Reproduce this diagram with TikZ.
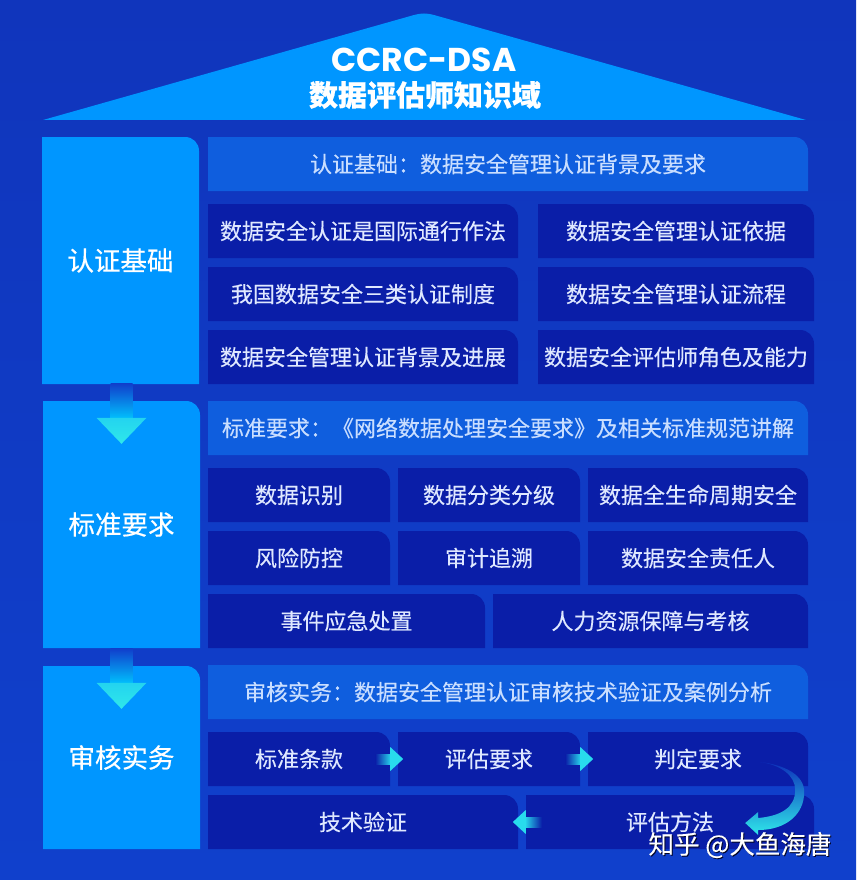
\documentclass[tikz,border=0pt]{standalone}
\usepackage{fontspec}
\setmainfont[FakeBold=0.25]{Noto Sans CJK SC}
\newfontfamily\latinhead{Poppins}
\newfontfamily\cjkhead[FakeBold=0.5]{Noto Sans CJK SC}
\usetikzlibrary{calc}
\definecolor{pagetop}{HTML}{1035BC}
\definecolor{pagebot}{HTML}{1040CC}
\definecolor{basefill}{HTML}{0096FF}
\definecolor{headfill}{HTML}{0F5EDE}
\definecolor{itemfill}{HTML}{0A1EA8}
\definecolor{flowend}{HTML}{2FE8EA}
\definecolor{flowmid}{HTML}{3FA8EA}
\definecolor{headtext}{HTML}{C9DEFF}
\definecolor{itemtext}{HTML}{DFE8FF}
\tikzset{
    basebox/.style={fill=basefill},
    headbox/.style={fill=headfill},
    itembox/.style={fill=itemfill},
    basetext/.style={text=white,font=\cjkhead\fontsize{26.5}{30}\selectfont},
    headtext/.style={text=headtext,font=\fontsize{22}{26}\selectfont},
    itemtext/.style={text=itemtext,font=\fontsize{22}{26}\selectfont},
    flowdown/.style={top color=pagebot,bottom color=cyan!45!basefill},
    flowside/.style={left color=itemfill,right color=flowend!85!basefill},
    flowback/.style={right color=itemfill,left color=flowend!85!basefill},
    marktext/.style={font=\fontsize{25.5}{28}\selectfont,inner sep=0},
}
% block with one round corner, #1 kind, #2 name, #3-#6 corners, #7 text
\newcommand{\blockbox}[7]{
    \fill[#1box] (#3,#6) -- (#3,#4) -- ({#5-14},#4) .. controls ({#5-6},#4) and (#5,{#4+6}) .. (#5,{#4+14}) -- (#5,#6) -- cycle;
    \node[#1text,inner sep=0,minimum width={(#5-#3)*1pt},minimum height={(#6-#4)*1pt}] (#2) at ({(#3+#5)/2},{(#4+#6)/2}) {#7};
}
\newcommand{\downflow}[1]{
    \begin{scope}[shift={(#1)}]
    \shade[flowdown] (-11,-17) rectangle (11,19);
    \shade[top color=flowend!75!basefill,bottom color=flowend] (-25,17) -- (25,17) -- (0,43) -- cycle;
    \end{scope}
}
\newcommand{\sideflow}[1]{
    \begin{scope}[shift={(#1)}]
    \shade[flowside] (-15,-5) rectangle (1,5);
    \fill[flowend!85!basefill] (0,-12) -- (13,0) -- (0,12) -- cycle;
    \end{scope}
}
\newcommand{\backflow}[1]{
    \begin{scope}[shift={(#1)}]
    \shade[flowback] (-1,-5) rectangle (16,5);
    \fill[flowend!85!basefill] (0,-12) -- (-13,0) -- (0,12) -- cycle;
    \end{scope}
}
\begin{document}
\begin{tikzpicture}[x=1pt,y=-1pt]
    \useasboundingbox (0,0) rectangle (856,880);
    \shade[top color=pagetop,bottom color=pagebot] (0,0) rectangle (856,880);
    % roof
    \fill[basefill] (43,120) -- (414,15) .. controls (421,13) and (427,13) .. (434,15) -- (806,120) -- cycle;
    \node[text=white,font=\latinhead\fontsize{33}{38}\selectfont\bfseries,inner sep=0] (title) at (424,60) {CCRC-DSA};
    \node[text=white,font=\cjkhead\fontsize{29}{32}\selectfont\bfseries,inner sep=0] (subtitle) at (425,95) {数据评估师知识域};
    % first block
    \blockbox{base}{basea}{42}{137}{199}{384}{认证基础}
    \blockbox{head}{heada}{208}{137}{808}{191}{认证基础：数据安全管理认证背景及要求}
    \blockbox{item}{intl}{208}{204}{518}{258}{数据安全认证是国际通行作法}
    \blockbox{item}{basis}{538}{204}{814}{258}{数据安全管理认证依据}
    \blockbox{item}{three}{208}{267}{518}{321}{我国数据安全三类认证制度}
    \blockbox{item}{proc}{538}{267}{814}{321}{数据安全管理认证流程}
    \blockbox{item}{prog}{208}{330}{518}{384}{数据安全管理认证背景及进展}
    \blockbox{item}{role}{538}{330}{814}{384}{数据安全评估师角色及能力}
    % second block
    \blockbox{base}{baseb}{43}{401}{200}{648}{标准要求}
    \blockbox{head}{headb}{208}{401}{808}{455}{标准要求：《网络数据处理安全要求》及相关标准规范讲解}
    \blockbox{item}{ident}{208}{468}{390}{522}{数据识别}
    \blockbox{item}{grade}{398}{468}{580}{522}{数据分类分级}
    \blockbox{item}{life}{588}{468}{808}{522}{数据全生命周期安全}
    \blockbox{item}{risk}{208}{531}{390}{585}{风险防控}
    \blockbox{item}{audit}{398}{531}{580}{585}{审计追溯}
    \blockbox{item}{owner}{588}{531}{808}{585}{数据安全责任人}
    \blockbox{item}{event}{208}{594}{485}{648}{事件应急处置}
    \blockbox{item}{staff}{493}{594}{808}{648}{人力资源保障与考核}
    % third block
    \blockbox{base}{basec}{43}{666}{200}{849}{审核实务}
    \blockbox{head}{headc}{208}{665}{808}{719}{审核实务：数据安全管理认证审核技术验证及案例分析}
    \blockbox{item}{terms}{208}{732}{390}{786}{标准条款}
    \blockbox{item}{needs}{398}{732}{580}{786}{评估要求}
    \blockbox{item}{judge}{588}{732}{808}{786}{判定要求}
    \blockbox{item}{tech}{208}{795}{518}{849}{技术验证}
    \blockbox{item}{method}{526}{795}{814}{849}{评估方法}
    % flows
    \downflow{baseb.north}
    \downflow{basec.north}
    \sideflow{terms.east}
    \sideflow{needs.east}
    \backflow{method.west}
    \begin{scope}[shift={(judge.east)}]
    \shade[top color=itemfill!50!pagebot,middle color=flowmid,bottom color=flowend] (-48,3) .. controls (-23,6) and (-4,16) .. (-4,33) .. controls (-4,56) and (-23,71) .. (-50,71) -- (-50,76) -- (-63,64) -- (-50,53) -- (-50,59) .. controls (-28,57) and (-13,49) .. (-13,31) .. controls (-13,16) and (-28,6) .. (-48,3) -- cycle;
    \end{scope}
    % mark
    \node[marktext,text=black!75!itemfill] (markdark) at (741,846) {知乎 @大鱼海唐};
    \node[marktext,text=white] (mark) at (740,845) {知乎 @大鱼海唐};
\end{tikzpicture}
\end{document}
